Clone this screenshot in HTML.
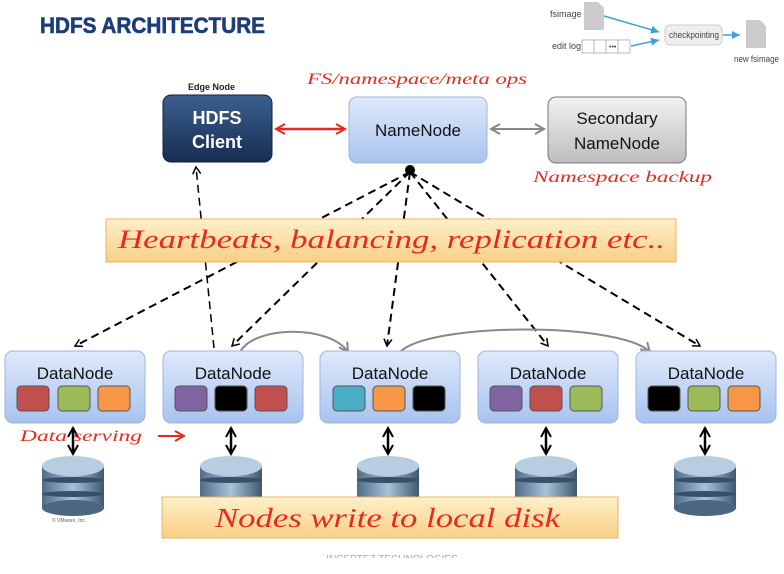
<!DOCTYPE html>
<html><head><meta charset="utf-8"><style>
html,body{margin:0;padding:0;background:#fff;}
svg{display:block;}
</style></head><body>
<svg width="784" height="574" viewBox="0 0 784 574" xmlns="http://www.w3.org/2000/svg" font-family="Liberation Sans, sans-serif">
<defs>
<linearGradient id="nav" x1="0" y1="0" x2="0" y2="1"><stop offset="0" stop-color="#3d5f8f"/><stop offset="1" stop-color="#152d52"/></linearGradient>
<linearGradient id="lb" x1="0" y1="0" x2="0" y2="1"><stop offset="0" stop-color="#dfe9fb"/><stop offset="1" stop-color="#a8c3ef"/></linearGradient>
<linearGradient id="gr" x1="0" y1="0" x2="0" y2="1"><stop offset="0" stop-color="#f2f2f2"/><stop offset="1" stop-color="#bdbdbd"/></linearGradient>
<linearGradient id="ban" x1="0" y1="0" x2="0" y2="1"><stop offset="0" stop-color="#fdf0c8"/><stop offset="1" stop-color="#f9cf86"/></linearGradient>
<linearGradient id="disk" x1="0" y1="0" x2="1" y2="0"><stop offset="0" stop-color="#4f6c88"/><stop offset="0.5" stop-color="#a9c2d8"/><stop offset="1" stop-color="#3d5870"/></linearGradient>
<marker id="ab" markerWidth="10" markerHeight="10" refX="8" refY="5" orient="auto" markerUnits="userSpaceOnUse"><path d="M1,1 L8,5 L1,9" fill="none" stroke="#000" stroke-width="1.5"/></marker>
<marker id="ar" markerWidth="12" markerHeight="12" refX="10" refY="6" orient="auto-start-reverse" markerUnits="userSpaceOnUse"><path d="M1,1 L10,6 L1,11" fill="none" stroke="#e52b1f" stroke-width="2"/></marker>
<marker id="ag" markerWidth="12" markerHeight="12" refX="10" refY="6" orient="auto-start-reverse" markerUnits="userSpaceOnUse"><path d="M1,1 L10,6 L1,11" fill="none" stroke="#888" stroke-width="2"/></marker>
<marker id="ak" markerWidth="12" markerHeight="12" refX="10" refY="6" orient="auto-start-reverse" markerUnits="userSpaceOnUse"><path d="M1,1 L10,6 L1,11" fill="none" stroke="#000" stroke-width="2"/></marker>
<marker id="abl" markerWidth="10" markerHeight="10" refX="8" refY="5" orient="auto" markerUnits="userSpaceOnUse"><path d="M0,1 L8,5 L0,9 Z" fill="#3fa0e0"/></marker>
</defs>

<text x="40" y="33" font-size="22" font-weight="bold" fill="#1c3d7a" textLength="225" lengthAdjust="spacingAndGlyphs" stroke="#1c3d7a" stroke-width="0.6">HDFS ARCHITECTURE</text>

<g font-size="9" fill="#444">
<path d="M584,2 h14 l6,6 v22 h-20 z" fill="#ccc"/>
<text x="550" y="17">fsimage</text>
<text x="552" y="49">edit log</text>
<g fill="#fff" stroke="#aaa" stroke-width="0.8"><rect x="582" y="40" width="12" height="13"/><rect x="594" y="40" width="12" height="13"/><rect x="606" y="40" width="12" height="13"/><rect x="618" y="40" width="12" height="13"/></g>
<text x="609" y="49" font-size="7">•••</text>
<line x1="604" y1="16" x2="659" y2="32" stroke="#3fa0e0" stroke-width="1.5" marker-end="url(#abl)"/>
<line x1="631" y1="46" x2="659" y2="40" stroke="#3fa0e0" stroke-width="1.5" marker-end="url(#abl)"/>
<rect x="665" y="25" width="57" height="20" rx="5" fill="#eee" stroke="#ccc"/>
<text x="669" y="38" textLength="50" lengthAdjust="spacingAndGlyphs">checkpointing</text>
<line x1="723" y1="35" x2="740" y2="35" stroke="#3fa0e0" stroke-width="1.5" marker-end="url(#abl)"/>
<path d="M746,20 h14 l6,6 v22 h-20 z" fill="#ccc"/>
<text x="734" y="62" textLength="45" lengthAdjust="spacingAndGlyphs">new fsimage</text>
</g>

<text x="188" y="90" font-size="9" font-weight="bold" fill="#222">Edge Node</text>
<rect x="163" y="95" width="109" height="67" rx="8" fill="url(#nav)" stroke="#10223f"/>
<text x="217" y="124" font-size="18" font-weight="bold" fill="#fff" text-anchor="middle">HDFS</text>
<text x="217" y="148" font-size="18" font-weight="bold" fill="#fff" text-anchor="middle">Client</text>
<text x="307" y="84" font-size="16" font-style="italic" fill="#e52b1f" font-family="Liberation Serif, serif" textLength="220" lengthAdjust="spacingAndGlyphs">FS/namespace/meta ops</text>
<rect x="349" y="97" width="138" height="66" rx="8" fill="url(#lb)" stroke="#9db5dc"/>
<text x="418" y="136" font-size="17" fill="#111" text-anchor="middle">NameNode</text>
<rect x="548" y="97" width="138" height="66" rx="8" fill="url(#gr)" stroke="#777"/>
<text x="617" y="124" font-size="17" fill="#111" text-anchor="middle">Secondary</text>
<text x="617" y="149" font-size="17" fill="#111" text-anchor="middle">NameNode</text>
<text x="533" y="182" font-size="16" font-style="italic" fill="#e52b1f" font-family="Liberation Serif, serif" textLength="179" lengthAdjust="spacingAndGlyphs">Namespace backup</text>
<line x1="276" y1="129" x2="345" y2="129" stroke="#e52b1f" stroke-width="2.5" marker-start="url(#ar)" marker-end="url(#ar)"/>
<line x1="491" y1="129" x2="544" y2="129" stroke="#888" stroke-width="2" marker-start="url(#ag)" marker-end="url(#ag)"/>

<g stroke="#000" stroke-width="2" stroke-dasharray="8,5" fill="none">
<line x1="410" y1="172" x2="75" y2="346" marker-end="url(#ab)"/>
<line x1="410" y1="172" x2="232" y2="346" marker-end="url(#ab)"/>
<line x1="410" y1="172" x2="387" y2="346" marker-end="url(#ab)"/>
<line x1="410" y1="172" x2="548" y2="346" marker-end="url(#ab)"/>
<line x1="410" y1="172" x2="700" y2="346" marker-end="url(#ab)"/>
<line x1="214" y1="348" x2="196" y2="167" stroke-width="1.5" marker-end="url(#ab)"/>
</g>
<circle cx="410" cy="170" r="5" fill="#000"/>

<path d="M240,352 C255,325 330,325 348,352" stroke="#888" stroke-width="2" fill="none" marker-end="url(#ag)"/>
<path d="M400,352 C430,322 620,322 650,352" stroke="#888" stroke-width="2" fill="none" marker-end="url(#ag)"/>

<rect x="106" y="219" width="570" height="43" fill="url(#ban)" stroke="#f0b060"/>
<text x="118" y="248" font-size="26" font-style="italic" fill="#e52b1f" font-family="Liberation Serif, serif" textLength="547" lengthAdjust="spacingAndGlyphs">Heartbeats, balancing, replication etc..</text>

<g>
<rect x="5" y="351" width="140" height="72" rx="8" fill="url(#lb)" stroke="#9db5dc"/>
<rect x="163" y="351" width="140" height="72" rx="8" fill="url(#lb)" stroke="#9db5dc"/>
<rect x="320" y="351" width="140" height="72" rx="8" fill="url(#lb)" stroke="#9db5dc"/>
<rect x="478" y="351" width="140" height="72" rx="8" fill="url(#lb)" stroke="#9db5dc"/>
<rect x="636" y="351" width="140" height="72" rx="8" fill="url(#lb)" stroke="#9db5dc"/>
</g>
<g font-size="17" fill="#111" text-anchor="middle">
<text x="75" y="379">DataNode</text><text x="233" y="379">DataNode</text><text x="390" y="379">DataNode</text><text x="548" y="379">DataNode</text><text x="706" y="379">DataNode</text>
</g>
<g stroke-width="1" stroke="#555">
<rect x="17" y="386" width="32" height="25" rx="4" fill="#c0504d"/><rect x="58" y="386" width="32" height="25" rx="4" fill="#9bbb59"/><rect x="98" y="386" width="32" height="25" rx="4" fill="#f79646"/>
<rect x="175" y="386" width="32" height="25" rx="4" fill="#8064a2"/><rect x="215" y="386" width="32" height="25" rx="4" fill="#000"/><rect x="255" y="386" width="32" height="25" rx="4" fill="#c0504d"/>
<rect x="333" y="386" width="32" height="25" rx="4" fill="#4bacc6"/><rect x="373" y="386" width="32" height="25" rx="4" fill="#f79646"/><rect x="413" y="386" width="32" height="25" rx="4" fill="#000"/>
<rect x="490" y="386" width="32" height="25" rx="4" fill="#8064a2"/><rect x="530" y="386" width="32" height="25" rx="4" fill="#c0504d"/><rect x="570" y="386" width="32" height="25" rx="4" fill="#9bbb59"/>
<rect x="648" y="386" width="32" height="25" rx="4" fill="#000"/><rect x="688" y="386" width="32" height="25" rx="4" fill="#9bbb59"/><rect x="728" y="386" width="32" height="25" rx="4" fill="#f79646"/>
</g>

<g stroke="#000" stroke-width="2.5">
<line x1="73" y1="428" x2="73" y2="454" marker-start="url(#ak)" marker-end="url(#ak)"/>
<line x1="231" y1="428" x2="231" y2="454" marker-start="url(#ak)" marker-end="url(#ak)"/>
<line x1="388" y1="428" x2="388" y2="454" marker-start="url(#ak)" marker-end="url(#ak)"/>
<line x1="546" y1="428" x2="546" y2="454" marker-start="url(#ak)" marker-end="url(#ak)"/>
<line x1="705" y1="428" x2="705" y2="454" marker-start="url(#ak)" marker-end="url(#ak)"/>
</g>
<g>
<g transform="translate(73,0)"><rect x="-31" y="466" width="62" height="42" fill="url(#disk)"/><ellipse cx="0" cy="508" rx="31" ry="8" fill="#4a6680"/><ellipse cx="0" cy="480" rx="31" ry="3" fill="#355068"/><ellipse cx="0" cy="494" rx="31" ry="3" fill="#355068"/><ellipse cx="0" cy="466" rx="31" ry="10" fill="#b8cee0"/></g>
<g transform="translate(231,0)"><rect x="-31" y="466" width="62" height="42" fill="url(#disk)"/><ellipse cx="0" cy="480" rx="31" ry="3" fill="#355068"/><ellipse cx="0" cy="466" rx="31" ry="10" fill="#b8cee0"/></g>
<g transform="translate(388,0)"><rect x="-31" y="466" width="62" height="42" fill="url(#disk)"/><ellipse cx="0" cy="480" rx="31" ry="3" fill="#355068"/><ellipse cx="0" cy="466" rx="31" ry="10" fill="#b8cee0"/></g>
<g transform="translate(546,0)"><rect x="-31" y="466" width="62" height="42" fill="url(#disk)"/><ellipse cx="0" cy="480" rx="31" ry="3" fill="#355068"/><ellipse cx="0" cy="466" rx="31" ry="10" fill="#b8cee0"/></g>
<g transform="translate(705,0)"><rect x="-31" y="466" width="62" height="42" fill="url(#disk)"/><ellipse cx="0" cy="508" rx="31" ry="8" fill="#4a6680"/><ellipse cx="0" cy="480" rx="31" ry="3" fill="#355068"/><ellipse cx="0" cy="494" rx="31" ry="3" fill="#355068"/><ellipse cx="0" cy="466" rx="31" ry="10" fill="#b8cee0"/></g>
</g>
<text x="52" y="522" font-size="5" fill="#666">© VMware, Inc.</text>

<text x="20" y="441" font-size="16" font-style="italic" fill="#e52b1f" font-family="Liberation Serif, serif" textLength="122" lengthAdjust="spacingAndGlyphs">Data  serving</text>
<line x1="158" y1="436" x2="184" y2="436" stroke="#e52b1f" stroke-width="2" marker-end="url(#ar)"/>

<rect x="162" y="497" width="456" height="41" fill="url(#ban)" stroke="#f0b060"/>
<text x="215" y="527" font-size="27" font-style="italic" fill="#e52b1f" font-family="Liberation Serif, serif" textLength="345" lengthAdjust="spacingAndGlyphs">Nodes write to local disk</text>

<text x="392" y="562" font-size="10" fill="#aaa" text-anchor="middle">INCEPTEZ TECHNOLOGIES</text>
<rect x="300" y="558" width="200" height="16" fill="#fff"/>
</svg>
</body></html>
